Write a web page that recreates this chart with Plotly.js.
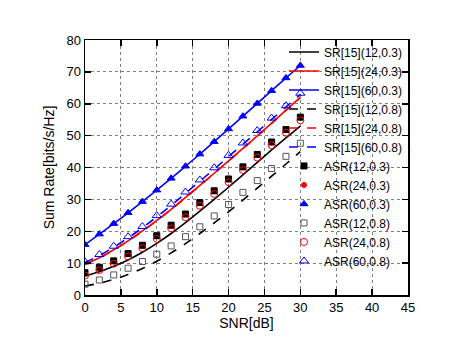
<!DOCTYPE html>
<html>
<head>
<meta charset="utf-8">
<script src="https://cdn.plot.ly/plotly-3.0.1.min.js"></script>
<style>html,body{margin:0;padding:0;background:#fff;}#chart{width:474px;height:355px;}</style>
</head>
<body>
<div id="chart"></div>
<script>
// SNR in dB
var snr = [0,2,4,6,8,10,12,14,16,18,20,22,24,26,28,30];

// SR[15] curves
var sr12_03 = [6.0,7.3,9.0,11.0,13.4,16.2,19.3,22.7,26.3,30.0,33.8,37.7,41.6,45.5,49.3,53.0];
var sr24_03 = [9.7,11.7,14.2,17.0,20.1,23.4,26.9,30.6,34.4,38.2,42.1,46.0,49.9,53.9,58.0,62.0];
var sr60_03 = [15.8,19.1,22.4,25.8,29.3,32.9,36.6,40.4,44.2,48.1,52.1,56.1,60.1,64.1,68.1,72.0];
var sr12_08 = [2.8,3.7,4.9,6.4,8.3,10.6,13.2,16.1,19.3,22.6,26.1,29.8,33.5,37.3,41.1,45.0];
var sr24_08 = [9.6,11.6,14.1,16.9,20.0,23.3,26.8,30.5,34.3,38.1,42.0,45.9,49.8,53.8,57.9,61.9];
var sr60_08 = [10.2,12.4,15.0,17.9,21.1,24.5,28.1,31.9,35.7,39.5,43.4,47.3,51.2,55.1,59.0,62.9];

// ASR points
var asr12_03 = [7.0,8.7,10.7,13.0,15.6,18.6,21.9,25.4,29.0,32.7,36.4,40.2,44.1,48.0,51.9,55.8];
var asr24_03 = [6.9,8.6,10.6,12.9,15.5,18.5,21.8,25.3,28.9,32.6,36.3,40.1,44.0,47.9,51.8,55.7];
var asr60_03 = [15.8,19.1,22.4,25.8,29.3,32.9,36.6,40.4,44.2,48.1,52.1,56.1,60.1,64.1,68.1,72.0];
var asr12_08 = [3.4,4.7,6.3,8.4,10.5,12.8,15.4,18.3,21.4,24.8,28.4,32.2,35.9,39.7,43.5,47.6];
var asr24_08 = [6.1,7.8,9.8,12.1,14.7,17.6,20.9,24.4,28.0,31.7,35.4,39.2,43.1,47.0,50.9,54.8];
var asr60_08 = [10.4,12.7,15.3,18.3,21.5,24.9,28.5,32.3,36.1,39.9,43.8,47.7,51.6,55.5,59.4,63.3];

var xTicks = [0,5,10,15,20,25,30,35,40,45];
var yTicks = [0,10,20,30,40,50,60,70,80];

var BLACK = '#000000', RED = '#ff0000', BLUE = '#0000ff', GRAY = '#555555';
var FONT = 'Liberation Sans, Arial, sans-serif';

function line(name, y, color, dash, rank) {
  return {x: snr, y: y, name: name, type: 'scatter', mode: 'lines', legendrank: rank,
          line: {color: color, width: 1.6, dash: dash, shape: 'spline'}};
}
function pts(name, y, color, symbol, size, rank) {
  return {x: snr, y: y, name: name, type: 'scatter', mode: 'markers', legendrank: rank,
          marker: {color: color, symbol: symbol, size: size, line: {color: color, width: 1}}};
}

var data = [
  line('SR[15](24,0.8)', sr24_08, RED, 'dash', 5),
  line('SR[15](12,0.8)', sr12_08, BLACK, 'dash', 4),
  line('SR[15](60,0.8)', sr60_08, BLUE, 'dash', 6),
  line('SR[15](24,0.3)', sr24_03, RED, 'solid', 2),
  line('SR[15](12,0.3)', sr12_03, BLACK, 'solid', 1),
  line('SR[15](60,0.3)', sr60_03, BLUE, 'solid', 3),
  pts('ASR(24,0.3)', asr24_03, RED, 'circle', 5, 8),
  pts('ASR(12,0.3)', asr12_03, BLACK, 'square', 6, 7),
  pts('ASR(60,0.3)', asr60_03, BLUE, 'triangle-up', 7, 9),
  pts('ASR(12,0.8)', asr12_08, GRAY, 'square-open', 6, 10),
  pts('ASR(24,0.8)', asr24_08, RED, 'circle-open', 7, 11),
  pts('ASR(60,0.8)', asr60_08, BLUE, 'triangle-up-open', 8, 12)
];

var axisCommon = {
  showline: true, linecolor: '#000', linewidth: 1.5, mirror: 'ticks',
  ticks: 'inside', ticklen: 6, tickwidth: 1.5, tickcolor: '#000',
  showgrid: true, gridcolor: '#808080', gridwidth: 1, griddash: '3px,3px',
  zeroline: false, tickfont: {family: FONT, size: 13, color: '#000'}
};

var layout = {
  width: 474, height: 355,
  margin: {l: 85, r: 66, t: 40, b: 60},
  paper_bgcolor: '#fff', plot_bgcolor: '#fff',
  font: {family: FONT, color: '#000'},
  xaxis: Object.assign({}, axisCommon, {
    range: [0, 45], tickvals: xTicks, ticktext: xTicks.map(String),
    title: {text: 'SNR[dB]', font: {size: 14}, standoff: 3}
  }),
  yaxis: Object.assign({}, axisCommon, {
    range: [0, 80], tickvals: yTicks, ticktext: yTicks.map(String),
    title: {text: 'Sum Rate[bits/s/Hz]', font: {size: 14}, standoff: 8}
  }),
  showlegend: true,
  legend: {
    x: 1, xanchor: 'right', y: 1.01, yanchor: 'top',
    bgcolor: 'rgba(0,0,0,0)', borderwidth: 0, maxheight: 1,
    font: {family: FONT, size: 12, color: '#000'},
    tracegroupgap: 0, itemwidth: 30
  }
};

Plotly.newPlot('chart', data, layout, {displayModeBar: false, staticPlot: true});
</script>
</body>
</html>
